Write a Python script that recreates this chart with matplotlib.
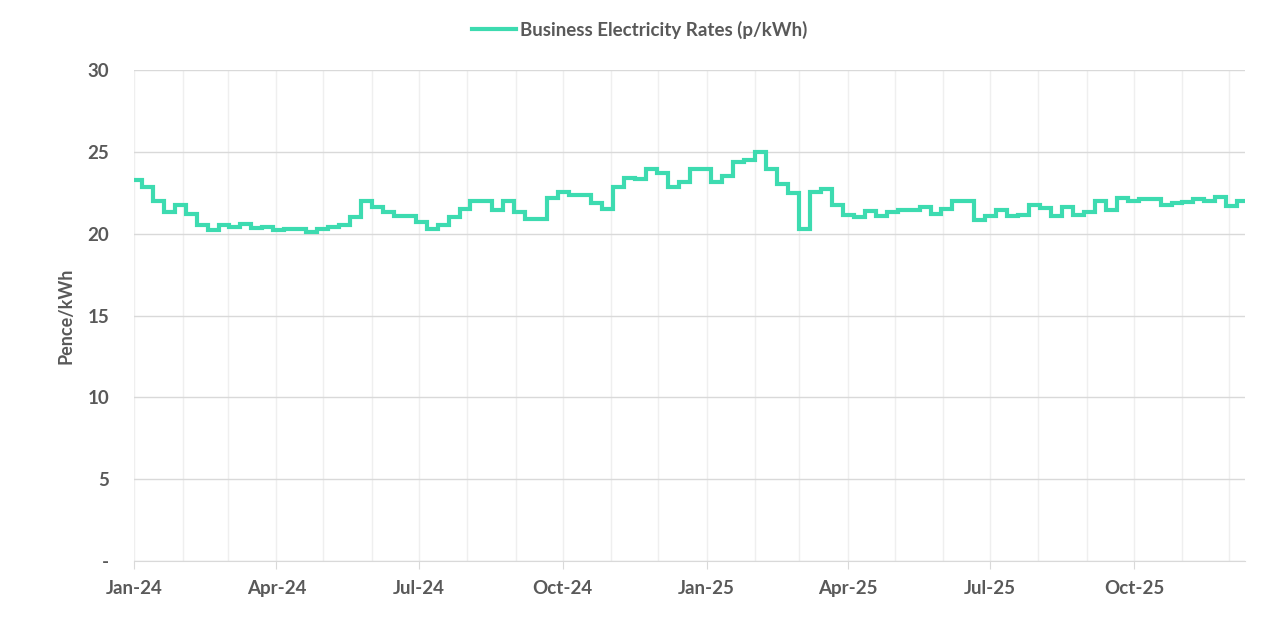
import pandas as pd
import matplotlib.pyplot as plt
import matplotlib.dates as mdates
from matplotlib.ticker import FuncFormatter

# Weekly business electricity rates (p/kWh)
start_date = "2023-12-30"
rates = [
    23.25, 22.83, 21.97, 21.30, 21.77, 21.22, 20.55, 20.20, 20.50, 20.40,
    20.60, 20.37, 20.40, 20.25, 20.30, 20.30, 20.08, 20.30, 20.40, 20.55,
    21.00, 21.97, 21.60, 21.30, 21.05, 21.05, 20.70, 20.30, 20.50, 21.00,
    21.50, 21.97, 21.97, 21.46, 21.97, 21.30, 20.90, 20.90, 22.17, 22.54,
    22.38, 22.38, 21.90, 21.50, 22.83, 23.40, 23.33, 23.94, 23.70, 22.83,
    23.17, 23.94, 23.94, 23.17, 23.50, 24.40, 24.50, 24.96, 23.94, 23.03,
    22.48, 20.28, 22.54, 22.72, 21.77, 21.14, 21.00, 21.40, 21.05, 21.30,
    21.42, 21.42, 21.63, 21.22, 21.50, 22.00, 22.00, 20.85, 21.10, 21.42,
    21.05, 21.16, 21.77, 21.56, 21.10, 21.63, 21.14, 21.30, 21.97, 21.46,
    22.20, 21.97, 22.10, 22.10, 21.75, 21.85, 21.93, 22.10, 22.00, 22.27,
    21.70, 22.00,
]
series_name = "Business Electricity Rates (p/kWh)"
y_ticks = [0, 5, 10, 15, 20, 25, 30]

dates = pd.date_range(start_date, periods=len(rates) + 1, freq="7D")
values = rates + [rates[-1]]

teal = "#3DDBB0"
grey_text = "#595959"
font = "Lato"

fig = plt.figure(figsize=(12.8, 6.34), dpi=100)
ax = fig.add_axes([0.1047, 0.1151, 0.868, 0.7745])

ax.plot(dates, values, drawstyle="steps-post", color=teal, linewidth=3.0,
        label=series_name, solid_joinstyle="miter", zorder=3)

ax.set_xlim(pd.Timestamp("2024-01-01"), pd.Timestamp("2025-12-11"))
ax.set_ylim(0, 30)

# y axis
ax.set_yticks(y_ticks)
ax.yaxis.set_major_formatter(FuncFormatter(lambda v, p: "-" if v == 0 else f"{v:.0f}"))
ax.tick_params(axis="y", length=0, pad=18, labelsize=13.5, labelcolor=grey_text)
ax.set_ylabel("Pence/kWh", fontsize=13, color=grey_text, fontweight="bold",
              family=font, labelpad=9)

# x axis: quarter labels, monthly gridlines
ax.xaxis.set_major_locator(mdates.MonthLocator(bymonth=[1, 4, 7, 10]))
ax.xaxis.set_major_formatter(mdates.DateFormatter("%b-%y"))
ax.xaxis.set_minor_locator(mdates.MonthLocator())
ax.tick_params(axis="x", which="major", length=6, color="#D9D9D9", pad=8,
               labelsize=13.5, labelcolor=grey_text)
ax.tick_params(axis="x", which="minor", length=0)

for lbl in ax.get_xticklabels() + ax.get_yticklabels():
    lbl.set_fontweight("bold")
    lbl.set_family(font)

ax.grid(axis="y", color="#D9D9D9", linewidth=1.0, zorder=0)
ax.grid(axis="x", which="both", color="#EFEFEF", linewidth=1.0, zorder=0)

for side in ["top", "right", "left"]:
    ax.spines[side].set_visible(False)
ax.spines["bottom"].set_color("#D9D9D9")

leg = fig.legend(loc="center", bbox_to_anchor=(0.5, 0.953), frameon=False,
                 handlelength=2.3, handletextpad=0.25,
                 prop={"family": font, "weight": "bold", "size": 13.5})
for t in leg.get_texts():
    t.set_color(grey_text)

fig.savefig("out.png", dpi=100, facecolor="white")
